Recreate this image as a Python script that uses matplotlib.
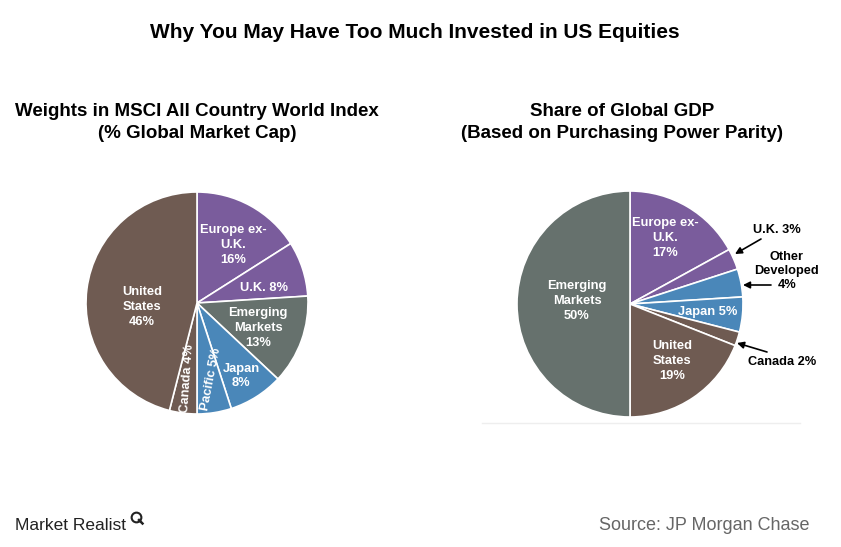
import matplotlib
matplotlib.use("Agg")
import matplotlib.pyplot as plt

# left pie: MSCI ACWI weights, clockwise from 12 o'clock
msci_labels = ["Europe ex-\nU.K.\n16%", "U.K. 8%", "Emerging\nMarkets\n13%",
               "Japan\n8%", "Pacific 5%", "Canada 4%", "United\nStates\n46%"]
msci_values = [16, 8, 13, 8, 5, 4, 46]

# right pie: share of global GDP (PPP), clockwise from 12 o'clock
gdp_labels = ["Europe ex-\nU.K.\n17%", "U.K. 3%", "Other\nDeveloped\n4%",
              "Japan 5%", "Canada 2%", "United\nStates\n19%",
              "Emerging\nMarkets\n50%"]
gdp_values = [17, 3, 4, 5, 2, 19, 50]

PURPLE = "#7A5C9C"
BROWN = "#6F5B52"
GREY = "#66716D"
BLUE = "#4A87B9"

msci_colors = [PURPLE, PURPLE, GREY, BLUE, BLUE, BROWN, BROWN]
gdp_colors = [PURPLE, PURPLE, BLUE, BLUE, BROWN, BROWN, GREY]

W, H = 841, 547
FONT = ["Liberation Sans", "DejaVu Sans"]
plt.rcParams["font.family"] = FONT


def y(py):
    # pixel row (top-down) to data y (bottom-up)
    return H - py


fig = plt.figure(figsize=(W / 100, H / 100), dpi=100)
ax = fig.add_axes([0, 0, 1, 1])

wedge_style = dict(edgecolor="white", linewidth=1.2)
ax.pie(msci_values, colors=msci_colors, startangle=90, counterclock=False,
       center=(197, y(303)), radius=111, wedgeprops=wedge_style)
ax.pie(gdp_values, colors=gdp_colors, startangle=90, counterclock=False,
       center=(630, y(304)), radius=113, wedgeprops=wedge_style)

ax.set_xlim(0, W)
ax.set_ylim(0, H)
ax.set_aspect("equal")
ax.axis("off")

# inside labels (white)
inside = dict(color="white", fontweight="bold", fontsize=9.3,
              ha="center", va="center", linespacing=1.3)
ax.text(233, y(245), msci_labels[0], **inside)
ax.text(264, y(288), msci_labels[1], **inside)
ax.text(258, y(328), msci_labels[2], **inside)
ax.text(241, y(376), msci_labels[3], **inside)
ax.text(211, y(379), msci_labels[4], rotation=79, **inside)
ax.text(187, y(378), msci_labels[5], rotation=86, **inside)
ax.text(142, y(307), msci_labels[6], **inside)

ax.text(665, y(238), gdp_labels[0], **inside)
ax.text(708, y(312), gdp_labels[3], **inside)
ax.text(672, y(361), gdp_labels[5], **inside)
ax.text(577, y(301), gdp_labels[6], **inside)

# outside labels with arrows
outside = dict(color="black", fontweight="bold", fontsize=9.2,
               ha="center", va="center", linespacing=1.2)
arrow = dict(arrowstyle="-|>", color="black", lw=1.2, mutation_scale=10,
             shrinkA=0, shrinkB=0)
ax.text(777, y(230), gdp_labels[1], **outside)
ax.annotate("", xy=(735, y(254)), xytext=(761, y(239)), arrowprops=arrow)
ax.text(787, y(271), gdp_labels[2], **outside)
ax.annotate("", xy=(743, y(285)), xytext=(771, y(285)), arrowprops=arrow)
ax.text(782, y(362), gdp_labels[4], **outside)
ax.annotate("", xy=(737, y(343)), xytext=(767, y(352)), arrowprops=arrow)

# faint frame line under the right chart
ax.plot([482, 800], [y(423), y(423)], color="#eeeeee", lw=1)

# titles
ax.text(415, y(33), "Why You May Have Too Much Invested in US Equities",
        fontsize=15, fontweight="bold", ha="center", va="center")
ax.text(197, y(112), "Weights in MSCI All Country World Index",
        fontsize=13.5, fontweight="bold", ha="center", va="center")
ax.text(197, y(133), "(% Global Market Cap)",
        fontsize=13.5, fontweight="bold", ha="center", va="center")
ax.text(622, y(112), "Share of Global GDP",
        fontsize=13.5, fontweight="bold", ha="center", va="center")
ax.text(622, y(134), "(Based on Purchasing Power Parity)",
        fontsize=13.5, fontweight="bold", ha="center", va="center")

# footer
ax.text(15, y(526), "Market Realist", fontsize=12.5, color="#222222",
        ha="left", va="center")
# small magnifier mark next to the logo
ax.plot([136], [y(517)], marker="o", ms=7, mfc="none", mec="#222222", mew=1.5)
ax.plot([139, 142.5], [y(520), y(523.5)], color="#222222", lw=1.8)
ax.text(810, y(525), "Source: JP Morgan Chase", fontsize=13, color="#666666",
        ha="right", va="center")

fig.savefig("out.png", dpi=100)
